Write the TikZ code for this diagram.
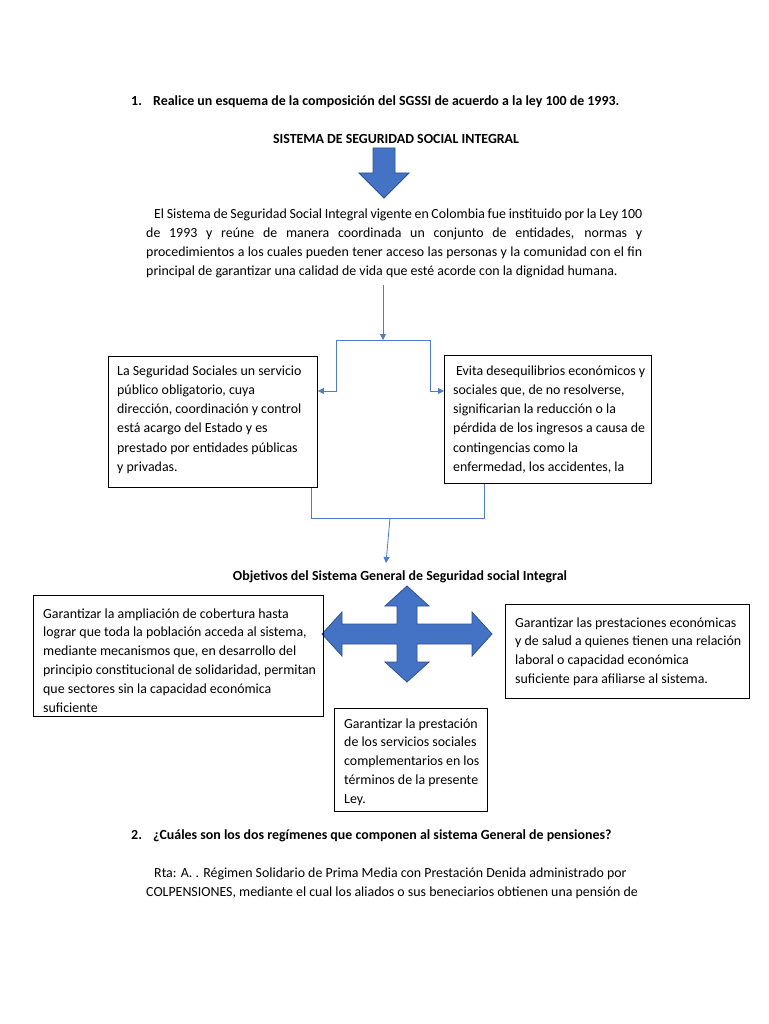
\documentclass[tikz,border=0pt]{standalone}
\usepackage{fontspec}
\setmainfont{Carlito}
\usetikzlibrary{arrows.meta}
\definecolor{arrowblue}{HTML}{4472C4}
\definecolor{arrowedge}{HTML}{2F528F}
\definecolor{linkblue}{HTML}{4F7BC8}
\begin{document}
\begin{tikzpicture}[x=1pt,y=-1pt,
  txt/.style={inner sep=0pt, anchor=base west, font=\fontsize{13.9}{19.2}\selectfont},
  btxt/.style={inner sep=0pt, anchor=base west, font=\fontsize{13.9}{19.2}\selectfont\bfseries},
  para/.style={inner sep=0pt, anchor=north west, align=left, font=\fontsize{13.9}{19.2}\selectfont},
  boxtxt/.style={inner sep=0pt, anchor=north west, align=left, font=\fontsize{13.9}{18.8}\selectfont},
  frame/.style={draw=black, line width=0.9pt, inner sep=0pt, anchor=north west},
  link/.style={draw=linkblue, line width=0.8pt},
  tipped/.style={-{Triangle[length=6pt,width=6pt]}},
  blockarrow/.style={fill=arrowblue, draw=arrowedge, line width=0.8pt}]
\useasboundingbox (0,0) rectangle (768,1024);
\fill[white] (0,0) rectangle (768,1024);

% Question 1
\node[btxt] (q1num) at (131,106) {1.};
\node[btxt] (q1) at (153,106) {Realice un esquema de la composición del SGSSI de acuerdo a la ley 100 de 1993.};

% Title
\node[btxt, anchor=base] (title) at (396,144) {SISTEMA DE SEGURIDAD SOCIAL INTEGRAL};

% Block arrow down
\fill[blockarrow] (373,148) -- (395,148) -- (395,173) -- (409,173) -- (384,198) -- (359,173) -- (373,173) -- cycle;

% Paragraph
\node[para] (para) at (146,204.6) {%
\makebox[496pt][s]{\strut\hspace*{8pt}El Sistema de Seguridad Social Integral vigente en Colombia fue instituido por la Ley 100}\\
\makebox[496pt][s]{de 1993 y reúne de manera coordinada un conjunto de entidades, normas y}\\
\makebox[496pt][s]{procedimientos a los cuales pueden tener acceso las personas y la comunidad con el fin}\\
principal de garantizar una calidad de vida que esté acorde con la dignidad humana.};

% Middle boxes
\node[frame, minimum width=209pt, minimum height=131pt] (lbox) at (108,356) {};
\node[boxtxt, font=\fontsize{13.9}{19.2}\selectfont] (ltext) at (117,361.6) {\strut La Seguridad Sociales un servicio\\
público obligatorio, cuya\\
dirección, coordinación y control\\
está acargo del Estado y es\\
prestado por entidades públicas\\
y privadas.};

\node[frame, minimum width=207pt, minimum height=128pt] (rbox) at (444,355) {};
\node[boxtxt, font=\fontsize{13.9}{19.2}\selectfont] (rtext) at (453,361.6) {\strut\hspace*{3pt}Evita desequilibrios económicos y\\
sociales que, de no resolverse,\\
significarian la reducción o la\\
pérdida de los ingresos a causa de\\
contingencias como la\\
enfermedad, los accidentes, la};

% Top connectors
\coordinate (c0) at (383,285);
\coordinate (jn) at (383,340);
\coordinate (jl) at (336,340);
\coordinate (jr) at (430,340);
\coordinate (jl2) at (336,391);
\coordinate (jr2) at (430,391);
\draw[link, tipped] (c0) -- (jn);
\draw[link] (jl) -- (jr);
\draw[link, tipped] (jl) -- (jl2) -- (lbox.east |- jl2);
\draw[link, tipped] (jr) -- (jr2) -- (rbox.west |- jr2);

% Bottom connectors
\coordinate (bl) at (311,518);
\coordinate (br) at (484,518);
\coordinate (bm) at (390,518);
\coordinate (ot) at (386,563);
\draw[link] (lbox.south -| bl) -- (bl) -- (br) -- (rbox.south -| br);
\draw[link, tipped] (bm) -- (ot);

% Objetivos
\node[btxt, anchor=base] (obj) at (400,580) {Objetivos del Sistema General de Seguridad social Integral};

% Four-way arrow
\fill[blockarrow, shift={(407,634)}]
 (0,-48) -- (22,-28) -- (10,-28) -- (10,-10) -- (65,-10) -- (65,-22) -- (85,0) -- (65,22) -- (65,10) -- (10,10) -- (10,28) -- (22,28) -- (0,48) -- (-22,28) -- (-10,28) -- (-10,10) -- (-65,10) -- (-65,22) -- (-85,0) -- (-65,-22) -- (-65,-10) -- (-10,-10) -- (-10,-28) -- (-22,-28) -- cycle;

% Lower boxes
\node[frame, minimum width=290pt, minimum height=121pt] (obox1) at (33,595) {};
\node[boxtxt] (otext1) at (43,604.8) {\strut Garantizar la ampliación de cobertura hasta\\
lograr que toda la población acceda al sistema,\\
mediante mecanismos que, en desarrollo del\\
principio constitucional de solidaridad, permitan\\
que sectores sin la capacidad económica\\
suficiente};

\node[frame, minimum width=244pt, minimum height=94pt] (obox2) at (505,604) {};
\node[boxtxt] (otext2) at (515,613.8) {\strut Garantizar las prestaciones económicas\\
y de salud a quienes tienen una relación\\
laboral o capacidad económica\\
suficiente para afiliarse al sistema.};

\node[frame, minimum width=153pt, minimum height=103pt] (obox3) at (334,708) {};
\node[boxtxt] (otext3) at (344,714.8) {\strut Garantizar la prestación\\
de los servicios sociales\\
complementarios en los\\
términos de la presente\\
Ley.};

% Question 2
\node[btxt] (q2num) at (131,839) {2.};
\node[btxt] (q2) at (153,839) {¿Cuáles son los dos regímenes que componen al sistema General de pensiones?};

\node[para] (rta) at (146,863.6) {\strut\hspace*{8pt}Rta: A. . Régimen Solidario de Prima Media con Prestación Denida administrado por\\
COLPENSIONES, mediante el cual los aliados o sus beneciarios obtienen una pensión de};
\end{tikzpicture}
\end{document}
